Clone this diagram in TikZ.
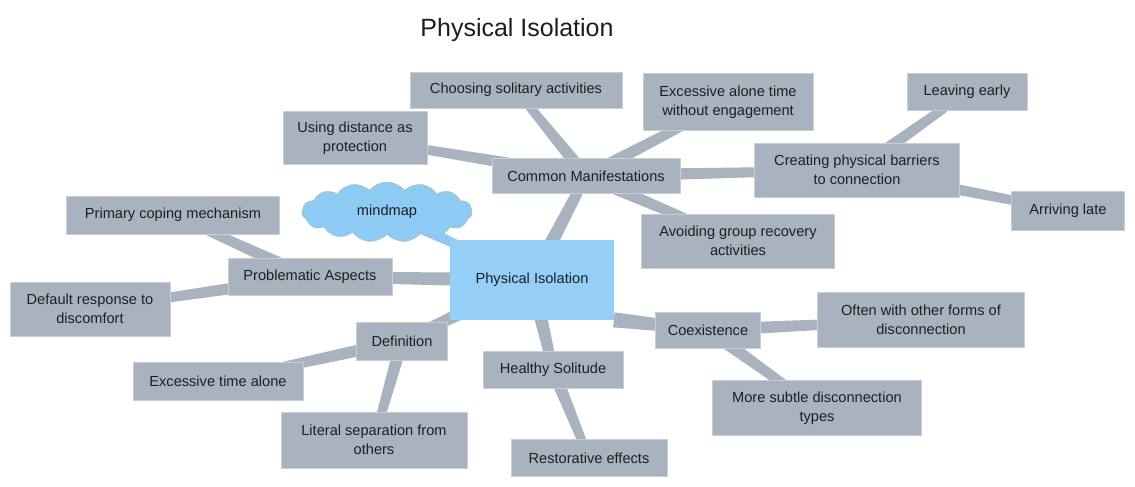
\documentclass[tikz,border=0pt]{standalone}
\usepackage{fontspec}
\setmainfont{Liberation Sans}
\usetikzlibrary{calc,backgrounds,shapes.symbols}

\definecolor{boxgray}{RGB}{169,179,192}
\definecolor{boxedge}{RGB}{200,207,216}
\definecolor{rootblue}{RGB}{148,207,248}
\definecolor{cloudblue}{RGB}{141,203,245}
\definecolor{textdark}{RGB}{30,30,34}

% tapered branch: [colour]{from}{to}{half width at from}{half width at to}
\newcommand{\tbranch}[5][boxgray]{%
  \fill[#1] ($(#2)!#4!90:(#3)$) -- ($(#3)!#5!-90:(#2)$)
    -- ($(#3)!#5!90:(#2)$) -- ($(#2)!#4!-90:(#3)$) -- cycle;}

\begin{document}
\begin{tikzpicture}[x=1pt,y=-1pt]
  \useasboundingbox (0,0) rectangle (1135,487);

  % Title.
  \node[text=textdark, font=\fontsize{25}{30}\selectfont] (title) at (517,30) {Physical Isolation};

  % Nodes.
  \tikzstyle{topic}=[rectangle, fill=boxgray, draw=boxedge, line width=0.7pt, inner sep=0pt, align=center, text=textdark, font=\fontsize{14.6}{19}\selectfont]
  \tikzstyle{root}=[fill=rootblue, draw=rootblue]

  \node[topic, root, minimum width=163pt, minimum height=79pt] (root) at (532,280) {Physical Isolation};
  \node[cloud, cloud puffs=15, cloud puff arc=100, aspect=3.8, fill=cloudblue, draw=gray!55, inner xsep=30pt, inner ysep=5pt, text=textdark, font=\fontsize{14.6}{19}\selectfont] (mm) at (387,212) {mindmap};

  \node[topic, minimum width=188pt, minimum height=35pt] (common) at (586,176) {Common Manifestations};
  \node[topic, minimum width=212pt, minimum height=36pt] (solitary) at (516,90) {Choosing solitary activities};
  \node[topic, minimum width=170pt, minimum height=57pt] (alonetime) at (728,102) {Excessive alone time\\without engagement};
  \node[topic, minimum width=144pt, minimum height=53pt] (distance) at (355,138) {Using distance as\\protection};
  \node[topic, minimum width=205pt, minimum height=54pt] (barriers) at (857,170) {Creating physical barriers\\to connection};
  \node[topic, minimum width=120pt, minimum height=37pt] (early) at (967,92) {Leaving early};
  \node[topic, minimum width=113pt, minimum height=39pt] (late) at (1068,211) {Arriving late};
  \node[topic, minimum width=193pt, minimum height=54pt] (avoiding) at (738,241) {Avoiding group recovery\\activities};

  \node[topic, minimum width=164pt, minimum height=37pt] (problems) at (310,277) {Problematic Aspects};
  \node[topic, minimum width=213pt, minimum height=38pt] (coping) at (173,215) {Primary coping mechanism};
  \node[topic, minimum width=160pt, minimum height=54pt] (default) at (90,309) {Default response to\\discomfort};

  \node[topic, minimum width=91pt, minimum height=38pt] (definition) at (402,341) {Definition};
  \node[topic, minimum width=170pt, minimum height=38pt] (timealone) at (218,381) {Excessive time alone};
  \node[topic, minimum width=186pt, minimum height=56pt] (literal) at (374,440) {Literal separation from\\others};

  \node[topic, minimum width=140pt, minimum height=37pt] (healthy) at (553,370) {Healthy Solitude};
  \node[topic, minimum width=156pt, minimum height=37pt] (restore) at (589,458) {Restorative effects};

  \node[topic, minimum width=105pt, minimum height=36pt] (coexist) at (708,330) {Coexistence};
  \node[topic, minimum width=207pt, minimum height=55pt] (forms) at (921,320) {Often with other forms of\\disconnection};
  \node[topic, minimum width=209pt, minimum height=55pt] (subtle) at (817,408) {More subtle disconnection\\types};

  % Branches.
  \begin{scope}[on background layer]
    \fill[white] (0,0) rectangle (1135,487);
    \tbranch[cloudblue]{mm}{root}{7pt}{2pt}
    \tbranch{root}{common}{7.5pt}{5pt}
    \tbranch{root}{problems}{7.5pt}{5pt}
    \tbranch{root}{definition}{7.5pt}{5pt}
    \tbranch{root}{healthy}{7.5pt}{5pt}
    \tbranch{root.south east}{coexist}{7.5pt}{5pt}

    \tbranch{common}{solitary}{6.5pt}{4pt}
    \tbranch{common}{alonetime}{6.5pt}{4pt}
    \tbranch{common}{distance}{6.5pt}{4pt}
    \tbranch{common}{barriers}{6.5pt}{4pt}
    \tbranch{common}{avoiding}{6.5pt}{4pt}
    \tbranch{barriers}{early}{6.5pt}{4pt}
    \tbranch{barriers}{late}{6.5pt}{4pt}

    \tbranch{problems}{coping}{6.5pt}{4pt}
    \tbranch{problems}{default}{6.5pt}{4pt}
    \tbranch{definition}{timealone}{6.5pt}{4pt}
    \tbranch{definition}{literal}{6.5pt}{4pt}
    \tbranch{healthy}{restore}{6.5pt}{4pt}
    \tbranch{coexist}{forms}{6.5pt}{4pt}
    \tbranch{coexist}{subtle}{6.5pt}{4pt}
  \end{scope}
\end{tikzpicture}
\end{document}
